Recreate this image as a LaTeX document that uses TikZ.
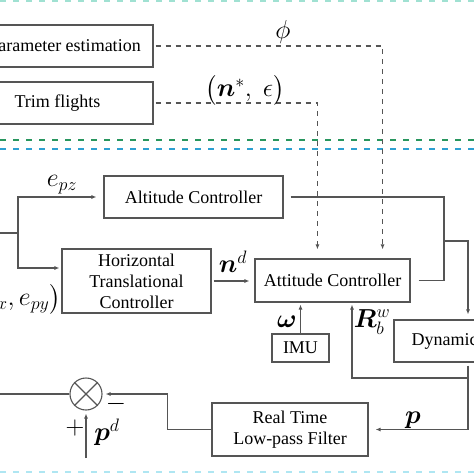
\RequirePackage{fix-cm}
\documentclass[tikz,border=0pt]{standalone}
\usepackage{amsmath,bm}
\usepackage{fontspec}
\setmainfont{Liberation Serif}
\DeclareMathSizes{26}{26}{18}{13}
\usetikzlibrary{arrows.meta,calc}
\definecolor{lc}{RGB}{85,85,85}
\definecolor{gdash}{RGB}{40,150,95}
\definecolor{bdash}{RGB}{45,160,210}
\definecolor{tdash}{RGB}{160,225,210}
\definecolor{cdash}{RGB}{175,230,242}
\tikzset{
  blk/.style={draw=lc,line width=1.1pt,rectangle,inner sep=0pt,align=center,font=\fontsize{18}{21}\selectfont},
  ln/.style={draw=lc,line width=1.1pt},
  arr/.style={ln,-{Latex[length=5pt,width=4pt]}},
  dsh/.style={draw=lc,line width=1.1pt,dash pattern=on 5pt off 5pt,-{Latex[length=5pt,width=4pt]}},
  sep/.style={line width=2pt,dash pattern=on 6pt off 7pt},
  lab/.style={inner sep=0pt,font=\fontsize{26}{30}\selectfont}
}
\begin{document}
\begin{tikzpicture}[x=1pt,y=-1pt]
\useasboundingbox (0,0) rectangle (474,474);
\clip (0,0) rectangle (474,474);
% separators
\draw[sep,tdash] (0,1) -- (474,1);
\draw[sep,gdash] (0,140) -- (474,140);
\draw[sep,bdash] (0,149) -- (474,149);
\draw[sep,cdash] (0,472) -- (474,472);
% blocks
\node[blk,minimum width=177pt,minimum height=42pt] (param) at (64.5,46) {Parameter estimation};
\node[blk,minimum width=191pt,minimum height=42pt] (trim) at (57.5,103) {Trim flights};
\node[blk,minimum width=179pt,minimum height=42pt] (alt) at (193.5,197) {Altitude Controller};
\node[blk,minimum width=149pt,minimum height=64pt] (horiz) at (136.5,281) {Horizontal\\Translational\\Controller};
\node[blk,minimum width=155pt,minimum height=43pt] (att) at (332.5,280.5) {Attitude Controller};
\node[blk,minimum width=57pt,minimum height=28pt] (imu) at (300.5,348) {IMU};
\node[blk,minimum width=108pt,minimum height=42pt] (dyn) at (448,341) {Dynamics};
\node[blk,minimum width=156pt,minimum height=53pt] (filt) at (290,429.5) {Real Time\\Low-pass Filter};
\node[draw=lc,line width=1.1pt,circle,minimum size=32pt,inner sep=0pt] (sum) at (86,394) {};
\draw[ln] (sum.north west) -- (sum.south east) (sum.north east) -- (sum.south west);
% coordinates
\coordinate (in) at (0,233);
\coordinate (split) at (18,233);
\coordinate (mix) at (444,241);
\coordinate (rb) at (468,378);
\coordinate (err) at (0,394);
\coordinate (pd) at (86,458);
% dashed feed-forward
\draw[dsh,shorten <=2pt,shorten >=9pt] (param.east) -| ([xshift=-28pt]att.north east);
\draw[dsh,shorten <=2pt,shorten >=9pt] (trim.east) -| ([xshift=63pt]att.north west);
% signals
\draw[ln] (in) -- (split);
\draw[arr,shorten >=7pt] (split) |- (alt.west);
\draw[arr,shorten >=2pt] (split) |- ([yshift=13pt]horiz.west);
\draw[arr,shorten <=2pt,shorten >=5pt] (horiz.east) -- (horiz.east -| att.west);
\draw[ln,shorten <=7pt] (alt.east) -| (mix);
\draw[ln,shorten <=8pt] (att.east) -| (mix);
\draw[arr,shorten >=5pt] (mix) -| ([xshift=20pt]dyn.north);
\draw[arr,shorten <=3pt,shorten >=7pt] ([xshift=20pt]dyn.south) |- (filt.east);
\draw[arr,shorten >=2pt] (rb) -| ([xshift=19.5pt]att.south);
\draw[arr,shorten >=2pt] (imu.north) -- (imu.north |- att.south);
\draw[arr,shorten >=3pt] (filt.west) -- ++(-44,0) |- (sum.east);
\draw[arr,shorten >=3pt] (pd) -- (sum.south);
\draw[ln] (sum.west) -- (err);
% labels
\node[lab] (lphi) at (283,32) {$\phi$};
\node[lab] (lnstar) at (245,90) {$\big(\bm{n}^{*},\ \epsilon\big)$};
\node[lab] (lepz) at (62,185) {$e_{pz}$};
\node[lab,anchor=east] (lexy) at (61,299) {$\big(e_{px},e_{py}\big)$};
\node[lab] (lnd) at (233,262) {$\bm{n}^{d}$};
\node[lab] (lom) at (287,322) {$\bm{\omega}$};
\node[lab] (lR) at (372,322) {$\bm{R}_b^w$};
\node[lab] (lp) at (413,420) {$\bm{p}$};
\node[lab] (lminus) at (116,404) {$-$};
\node[lab] (lplus) at (75,428) {$+$};
\node[lab] (lpd) at (107,432) {$\bm{p}^{d}$};
\end{tikzpicture}
\end{document}
